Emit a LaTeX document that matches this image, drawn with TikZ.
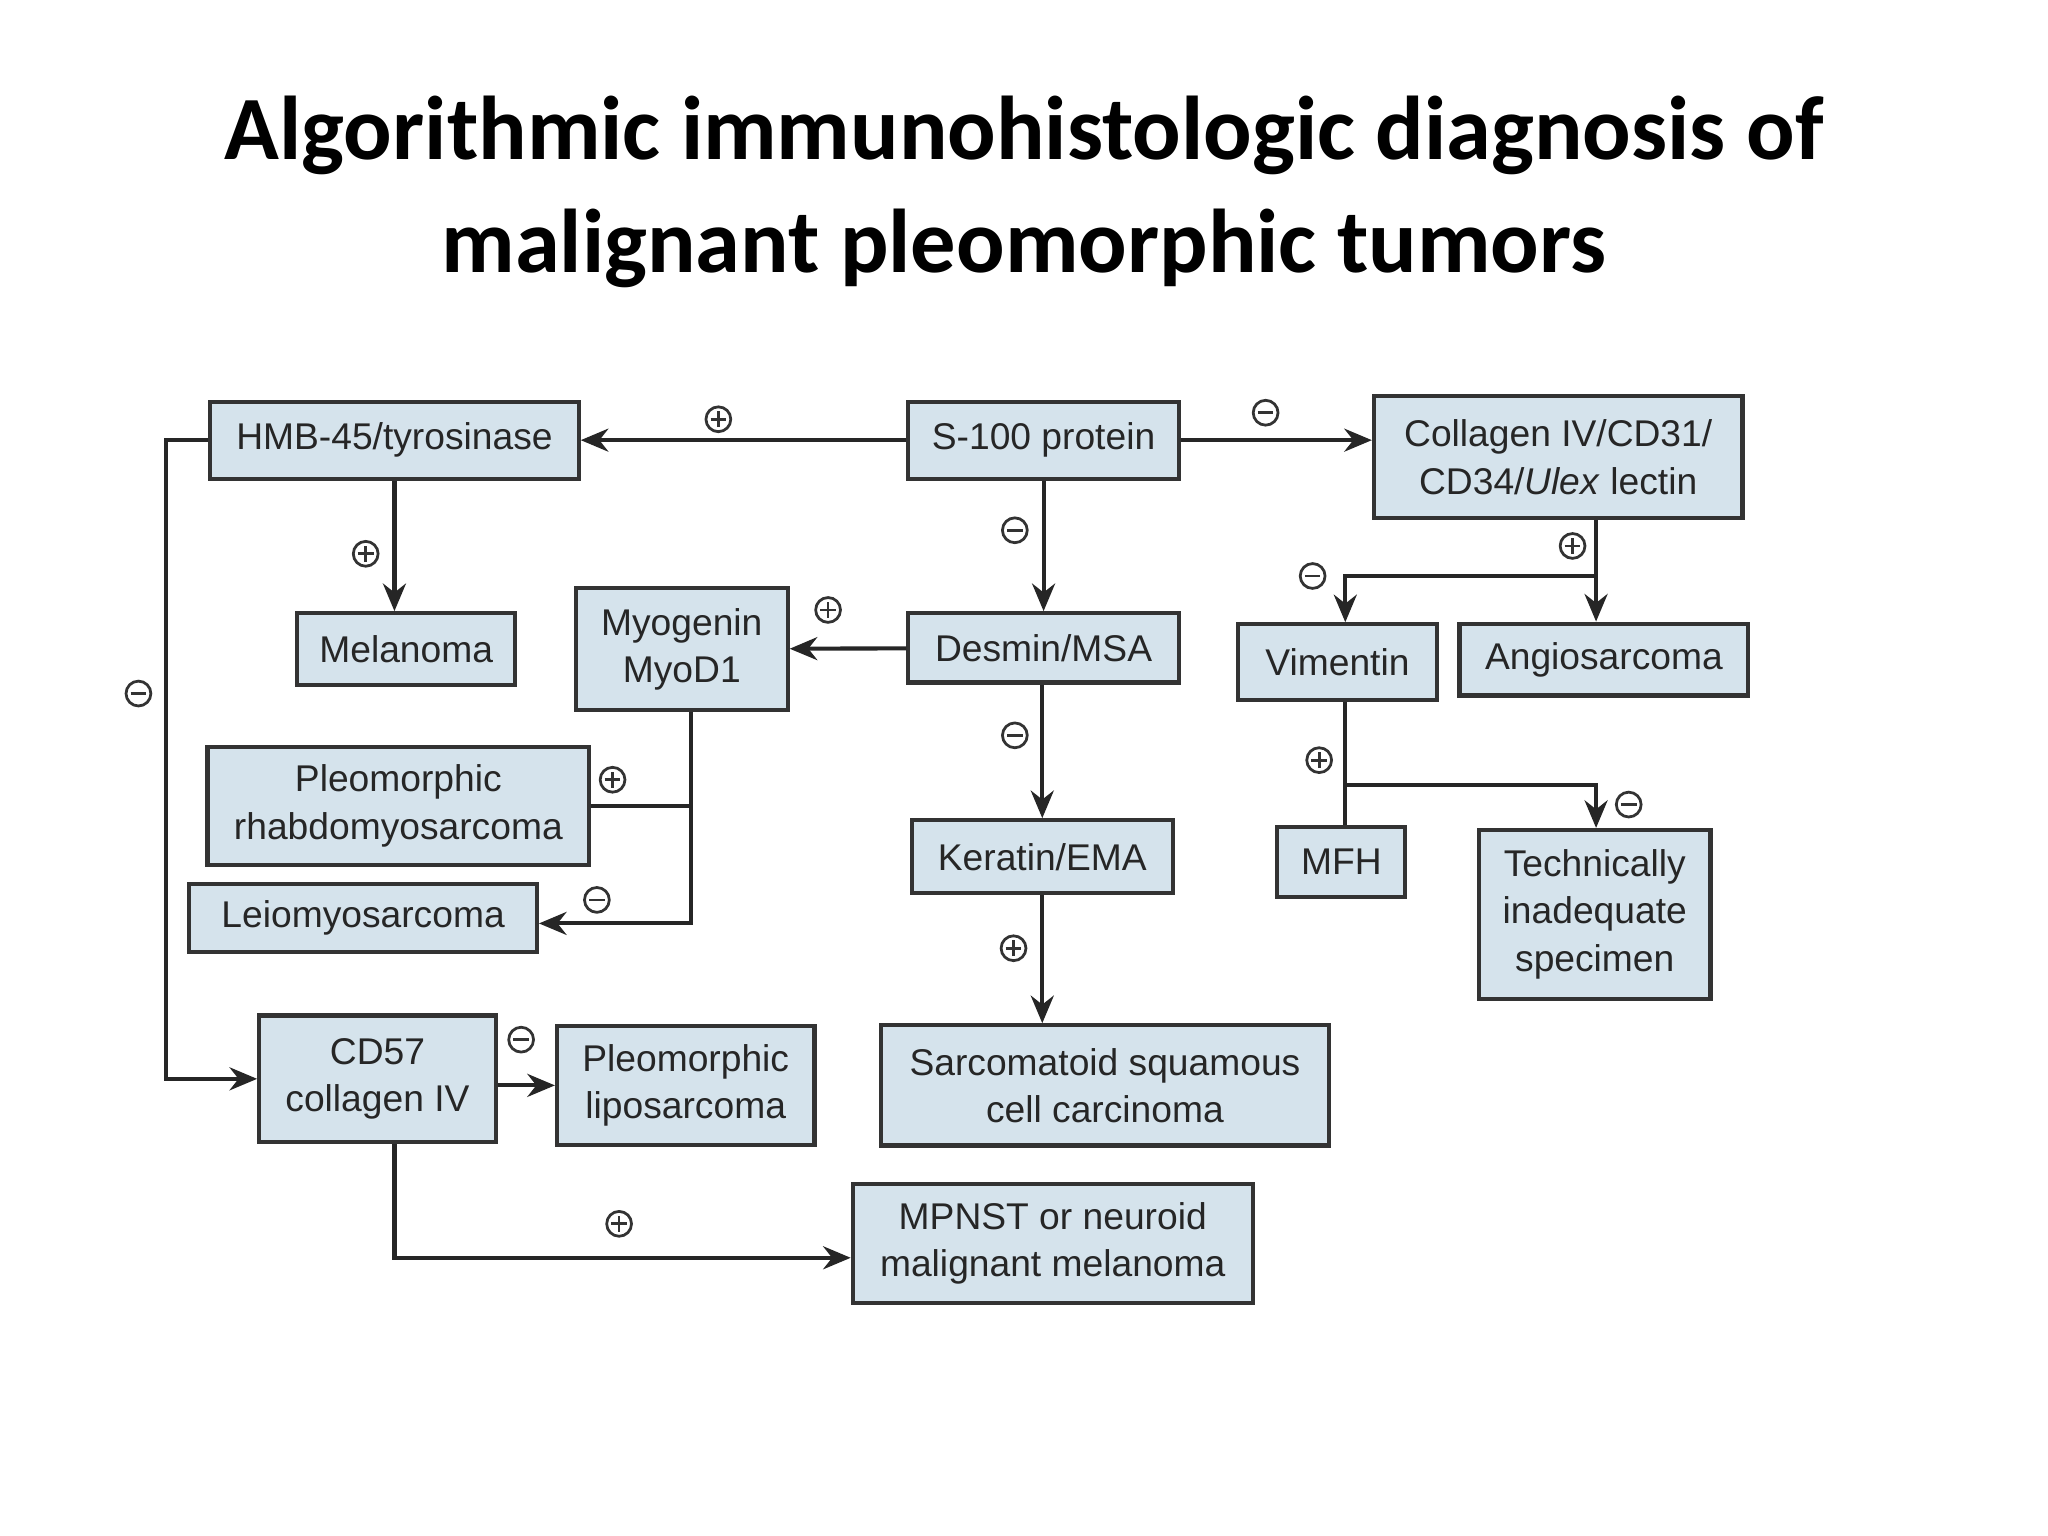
\documentclass[tikz,border=0pt]{standalone}
\usepackage{fontspec}
\setmainfont{Liberation Sans}
\newfontfamily\titlefont{Carlito}
\usetikzlibrary{arrows.meta}
\begin{document}
\begin{tikzpicture}[x=0.01cm,y=-0.01cm,
  bx/.style={draw=black!80,line width=0.9pt,fill={rgb,255:red,213;green,227;blue,236},font=\fontsize{8.1}{10.3}\selectfont\color{black!85},align=center,inner sep=0pt},
  ln/.style={draw=black!85,line width=0.9pt},
  ar/.style={ln,-{Stealth[length=6pt,width=5pt]}},
  sg/.style={circle,draw=black!80,line width=0.6pt,minimum size=0.19cm,inner sep=0pt},
  pl/.style={sg,path picture={\draw[line width=0.6pt] ([xshift=-0.06cm]path picture bounding box.center)--([xshift=0.06cm]path picture bounding box.center) ([yshift=-0.06cm]path picture bounding box.center)--([yshift=0.06cm]path picture bounding box.center);}},
  mi/.style={sg,path picture={\draw[line width=0.6pt] ([xshift=-0.06cm]path picture bounding box.center)--([xshift=0.06cm]path picture bounding box.center);}}]
\useasboundingbox[fill=white] (0,0) rectangle (1568,1176);
\node[font=\titlefont\bfseries\fontsize{19.7}{24.5}\selectfont,align=center] (title) at (784,147) {Algorithmic immunohistologic diagnosis of\\malignant pleomorphic tumors};
\node[bx,minimum width=2.82cm,minimum height=0.59cm] (hmb) at (302,337) {HMB-45/tyrosinase};
\node[bx,minimum width=2.07cm,minimum height=0.59cm] (s100) at (799,337) {S-100 protein};
\node[bx,minimum width=2.82cm,minimum height=0.93cm] (coll) at (1193,350) {Collagen IV/CD31/\\CD34/\textit{Ulex} lectin};
\node[bx,minimum width=1.67cm,minimum height=0.55cm] (mel) at (311,497) {Melanoma};
\node[bx,minimum width=1.62cm,minimum height=0.93cm] (myo) at (522,497) {Myogenin\\MyoD1};
\node[bx,minimum width=2.07cm,minimum height=0.53cm] (des) at (799,496) {Desmin/MSA};
\node[bx,minimum width=1.52cm,minimum height=0.58cm] (vim) at (1024,507) {Vimentin};
\node[bx,minimum width=2.21cm,minimum height=0.55cm] (ang) at (1228,505) {Angiosarcoma};
\node[bx,minimum width=2.92cm,minimum height=0.90cm] (rha) at (305,617) {Pleomorphic\\rhabdomyosarcoma};
\node[bx,minimum width=2.66cm,minimum height=0.52cm] (lei) at (278,703) {Leiomyosarcoma};
\node[bx,minimum width=2.00cm,minimum height=0.56cm] (ker) at (798,656) {Keratin/EMA};
\node[bx,minimum width=0.98cm,minimum height=0.54cm] (mfh) at (1027,660) {MFH};
\node[bx,minimum width=1.77cm,minimum height=1.29cm] (tec) at (1221,700) {Technically\\inadequate\\specimen};
\node[bx,minimum width=1.81cm,minimum height=0.97cm] (cd) at (289,826) {CD57\\collagen IV};
\node[bx,minimum width=1.97cm,minimum height=0.91cm] (lip) at (525,831) {Pleomorphic\\liposarcoma};
\node[bx,minimum width=3.43cm,minimum height=0.92cm] (sar) at (846,831) {Sarcomatoid squamous\\cell carcinoma};
\node[bx,minimum width=3.06cm,minimum height=0.91cm] (mpn) at (806,952) {MPNST or neuroid\\malignant melanoma};
\coordinate (c1) at (1222,441);
\coordinate (c2) at (1030,441);
\coordinate (v1) at (1030,601);
\coordinate (v2) at (1222,601);
\coordinate (m1) at (529,707);
\coordinate (m2) at (529,617);
\coordinate (h1) at (127,337);
\coordinate (h2) at (127,826);
\coordinate (d1) at (302,963);
\draw[ar] (s100) -- (hmb);
\draw[ar] (s100) -- (coll.west |- s100);
\draw[ar] (hmb.south) -- (mel.north -| hmb.south);
\draw[ar] (s100) -- (des);
\draw[ar] (des) -- (myo);
\draw[ar] (des.south -| ker.north) -- (ker.north);
\draw[ar] (ker.south) -- (sar.north -| ker.south);
\draw[ar] (coll.south -| c1) -- (c1) -- (ang.north -| c1);
\draw[ar] (c1) -- (c2) -- (vim.north -| c2);
\draw[ar] (vim.south -| v1) -- (v1) -- (v2) -- (tec.north -| v2);
\draw[ln] (v1) -- (mfh.north -| v1);
\draw[ar] (myo.south -| m1) -- (m1) -- (lei.east |- m1);
\draw[ln] (m2) -- (rha.east |- m2);
\draw[ar] (hmb.west) -- (h1) -- (h2) -- (cd.west);
\draw[ar] (cd.east |- lip) -- (lip.west);
\draw[ar] (cd.south -| d1) -- (d1) -- (mpn.west |- d1);
\node[pl] (s1) at (550,321) {};
\node[mi] (s2) at (969,316) {};
\node[pl] (s3) at (280,424) {};
\node[mi] (s4) at (777,406) {};
\node[pl] (s5) at (634,467) {};
\node[mi] (s6) at (777,563) {};
\node[pl] (s7) at (776,726) {};
\node[pl] (s8) at (1204,418) {};
\node[mi] (s9) at (1005,441) {};
\node[pl] (s10) at (1010,582) {};
\node[mi] (s11) at (1247,616) {};
\node[pl] (s12) at (469,597) {};
\node[mi] (s13) at (457,689) {};
\node[mi] (s14) at (106,531) {};
\node[mi] (s15) at (399,796) {};
\node[pl] (s16) at (474,937) {};
\end{tikzpicture}
\end{document}
